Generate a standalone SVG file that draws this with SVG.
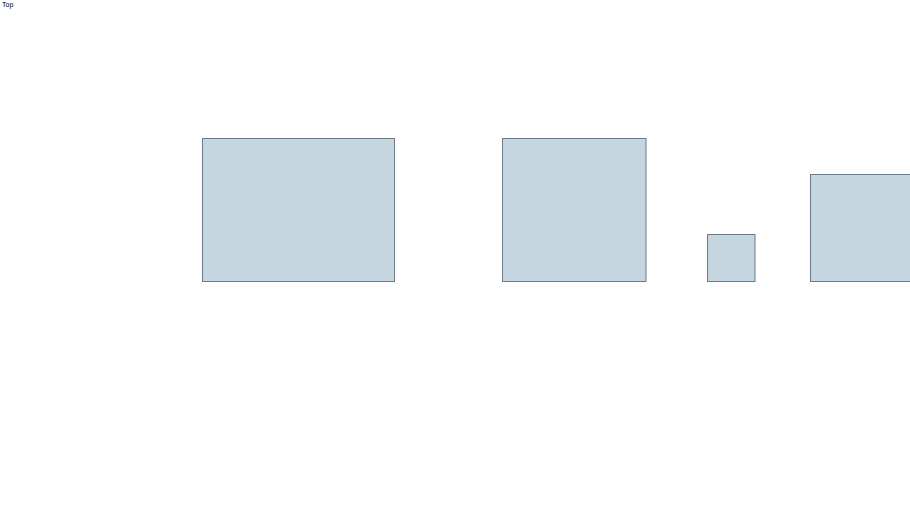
<svg xmlns="http://www.w3.org/2000/svg" width="910" height="512" viewBox="0 0 910 512">
<style>
.box{fill:#c6d6e0;stroke:#6b7b88;stroke-width:1}
.lbl{font-family:"Liberation Sans",Arial,sans-serif;font-size:7px;fill:#000}
</style>
<rect x="0" y="0" width="910" height="512" fill="#ffffff"/>
<text class="lbl" x="2" y="6.5">Top</text>
<g id="node1"><rect class="box" x="202.5" y="138.5" width="192" height="143"/></g>
<g id="node2"><rect class="box" x="502.5" y="138.5" width="143.5" height="143"/></g>
<g id="node3"><rect class="box" x="707.5" y="234.5" width="47.5" height="47"/></g>
<g id="node4"><rect class="box" x="810.5" y="174.5" width="110" height="107"/></g>
<g id="connectors"></g>
</svg>
